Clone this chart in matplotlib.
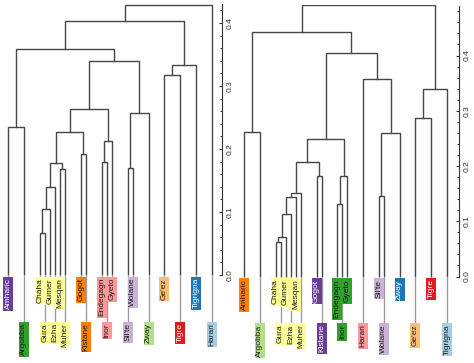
import numpy as np
import matplotlib
matplotlib.use("Agg")
import matplotlib.pyplot as plt
from matplotlib.ticker import MultipleLocator
from matplotlib.transforms import offset_copy

#%% datos: grupo de cada lengua (las del mismo grupo van juntas)
grupo = {"Amharic": "amh", "Argobba": "arg",
         "Chaha": "gur", "Gura": "gur", "Gumer": "gur", "Ezha": "gur",
         "Mesqan": "gur", "Muher": "gur",
         "Gogot": "gog", "Kistane": "gog",
         "Endegagn": "end", "Inor": "end", "Gyeto": "end",
         "Sil'te": "sil", "Wolane": "sil", "Zway": "zwa",
         "Ge'ez": "gez", "Tigre": "tig", "Tigrigna": "tir", "Harari": "har"}

# uniones del arbol izquierdo: (a, b, altura); int = union anterior
union_a_izq = ["Chaha", 0, 1, "Mesqan", 2, "Gogot", 4, "Endegagn", 7, 6,
               "Sil'te", 10, 9, "Amharic", 13, "Ge'ez", 15, 14, 17]
union_b_izq = ["Gura", "Gumer", "Ezha", "Muher", 3, "Kistane", 5, "Inor", "Gyeto", 8,
               "Wolane", "Zway", 11, "Argobba", 12, "Tigre", "Tigrigna", 16, "Harari"]
altura_izq = [0.066, 0.104, 0.139, 0.169, 0.177, 0.192, 0.227, 0.180, 0.212, 0.264,
              0.170, 0.257, 0.339, 0.235, 0.359, 0.318, 0.333, 0.403, 0.429]

# arbol derecho
union_a_der = ["Chaha", 0, 1, 2, 3, "Gogot", 4, "Endegagn", 7, 6,
               "Sil'te", 10, "Harari", 9, "Amharic", 14, "Ge'ez", 16, 15]
union_b_der = ["Gura", "Gumer", "Ezha", "Mesqan", "Muher", "Kistane", 5, "Inor", "Gyeto", 8,
               "Wolane", "Zway", 11, 12, "Argobba", 13, "Tigre", "Tigrigna", 17]
altura_der = [0.062, 0.072, 0.113, 0.143, 0.151, 0.182, 0.207, 0.132, 0.182, 0.248,
              0.146, 0.259, 0.357, 0.405, 0.261, 0.443, 0.286, 0.339, 0.491]

#%% estilo
colores_izq = {"amh": "#6a3d9a", "arg": "#33a02c", "gur": "#ffff99", "gog": "#ff7f00",
               "end": "#fb9a99", "sil": "#cab2d6", "zwa": "#b2df8a", "gez": "#fdbf6f",
               "tig": "#e31a1c", "tir": "#1f78b4", "har": "#a6cee3"}
colores_der = {"amh": "#ff7f00", "arg": "#b2df8a", "gur": "#ffff99", "gog": "#6a3d9a",
               "end": "#33a02c", "har": "#fb9a99", "sil": "#cab2d6", "zwa": "#1f78b4",
               "gez": "#fdbf6f", "tig": "#e31a1c", "tir": "#a6cee3"}
oscuros = ["#6a3d9a", "#1f78b4", "#e31a1c"]

CHICO = 0.32          # separacion entre hojas del mismo grupo
COLOR_ARBOL = "#474747"
COLOR_HOJA = "#9a9a9a"
plt.rcParams['font.family'] = ['Liberation Sans', 'DejaVu Sans']

W, H = 474, 363
fig = plt.figure(figsize=(W / 100, H / 100), dpi=100)


def dibujar(ax, ua, ub, alt, colores, ytop, ybound):
    def hojas(n):
        if isinstance(n, str):
            return [n]
        return hojas(ua[n]) + hojas(ub[n])

    orden = hojas(len(alt) - 1)
    xs = [0.0]
    for i in range(1, len(orden)):
        gap = CHICO if grupo[orden[i]] == grupo[orden[i - 1]] else 1.0
        xs.append(xs[-1] + gap)
    pos = dict(zip(orden, xs))

    centro = {}

    def coord(n):
        if isinstance(n, str):
            return pos[n], 0.0
        return centro[n], alt[n]

    for k in range(len(alt)):
        xa, ya = coord(ua[k])
        xb, yb = coord(ub[k])
        ax.plot([xa, xa, xb, xb], [ya, alt[k], alt[k], yb],
                color=COLOR_ARBOL, lw=1.0, solid_joinstyle='miter')
        centro[k] = (xa + xb) / 2

    ax.set_ylim(0, ytop)
    # pixeles por unidad en y
    bb = ax.get_position()
    ppu = bb.height * H / ytop
    for i, nom in enumerate(orden):
        baja = 3 if i % 2 == 0 else 48
        ax.plot([pos[nom], pos[nom]], [0, -baja / ppu], color=COLOR_HOJA,
                lw=0.95, clip_on=False)
        c = colores[grupo[nom]]
        tr = offset_copy(ax.transData, fig=fig, x=0, y=-baja, units='dots')
        ax.text(pos[nom], 0, nom, transform=tr, rotation=90, ha='center', va='top',
                fontsize=6, color='white' if c in oscuros else '#1a1a1a',
                bbox=dict(boxstyle='square,pad=0.18', fc=c, ec='none'))

    for s in ['left', 'top', 'bottom']:
        ax.spines[s].set_visible(False)
    ax.spines['right'].set_bounds(0, ybound)
    ax.spines['right'].set_color('#333333')
    ax.spines['right'].set_linewidth(0.8)
    ax.set_xticks([])
    ax.yaxis.tick_right()
    ax.yaxis.set_major_locator(MultipleLocator(0.1))
    ax.yaxis.set_minor_locator(MultipleLocator(0.02))
    ax.tick_params(axis='y', which='both', direction='in', color='#333333',
                   labelsize=6, labelcolor='#333333', labelrotation=90, pad=3)
    ax.tick_params(axis='y', which='major', length=2.4, width=0.8)
    ax.tick_params(axis='y', which='minor', length=1.8, width=0.7)
    ax.set_yticks(np.arange(0, ybound, 0.1))
    ax.set_yticklabels(["%.1f" % v for v in np.arange(0, ybound, 0.1)], va='center')
    ax.patch.set_alpha(0)
    return xs[-1]


L = 10 + 9 * CHICO

# panel izquierdo: hojas de x=8 a 212 px, eje en 222 px, y=0 en 275 px
ax1 = fig.add_axes([0 / W, 88 / H, 222 / W, 0.43 * 630 / H])
dibujar(ax1, union_a_izq, union_b_izq, altura_izq, colores_izq, 0.43, 0.43)
ppx = 204 / L
ax1.set_xlim(-8 / ppx, L + 10 / ppx)

# panel derecho: hojas de x=244 a 447 px, eje en 459 px, y=0 en 276.5 px
ax2 = fig.add_axes([236 / W, 86.5 / H, 223 / W, 0.492 * 552.5 / H])
dibujar(ax2, union_a_der, union_b_der, altura_der, colores_der, 0.492, 0.49)
ppx = 203 / L
ax2.set_xlim(-8 / ppx, L + 12 / ppx)

fig.savefig("out.png", dpi=100)
